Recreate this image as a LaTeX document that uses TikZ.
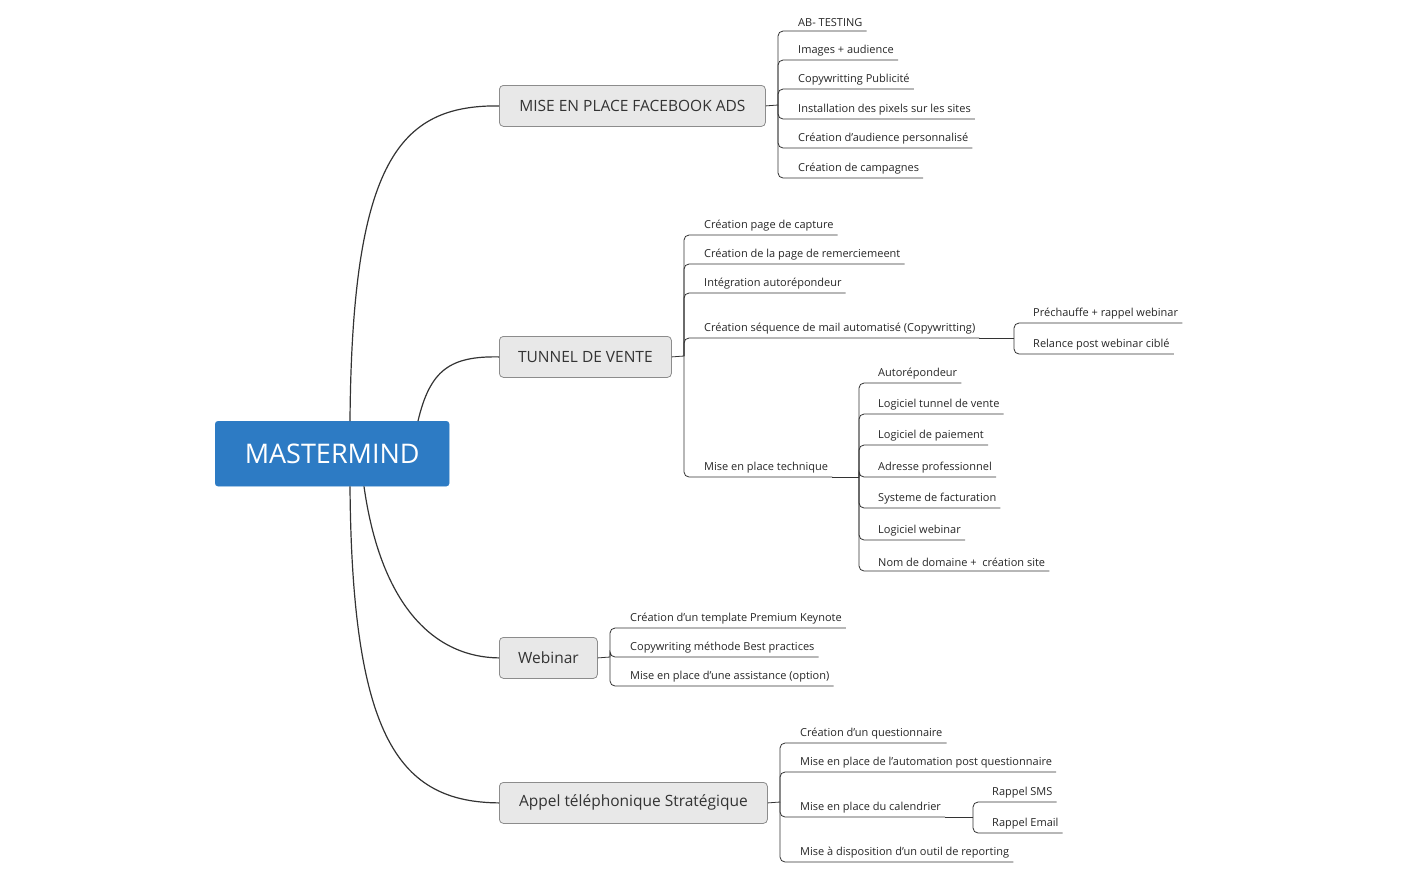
\documentclass[tikz,border=0pt]{standalone}
\usepackage{fontspec}
\setmainfont{Open Sans}
\usetikzlibrary{calc}
\definecolor{rootblue}{HTML}{2D7BC4}
\definecolor{topic}{HTML}{E8E8E8}
\definecolor{topicborder}{HTML}{8C8C8C}
\definecolor{linec}{HTML}{333333}
\begin{document}
\begin{tikzpicture}[x=1pt,y=-1pt,
  root/.style={fill=rootblue,draw=rootblue,rounded corners=3,text=white,font=\fontsize{27}{30}\selectfont,minimum width=234,minimum height=65,inner sep=0,anchor=north west},
  topicn/.style={fill=topic,draw=topicborder,rounded corners=4,text=black!80,font=\fontsize{15.5}{18}\selectfont,minimum height=41,inner xsep=0,anchor=north west,line width=0.8pt},
  leaf/.style={anchor=south west,font=\fontsize{11}{13}\selectfont,inner xsep=4,inner ysep=4,text=black!85},
  conn/.style={draw=linec,line width=0.8pt,rounded corners=5},
  curve/.style={draw=linec,line width=1.2pt}]
\useasboundingbox (0,0) rectangle (1410,873);
\node[root] (root) at (215,421) {MASTERMIND};
\node[topicn,minimum width=266] (fb) at (499,85) {MISE EN PLACE FACEBOOK ADS};
\node[topicn,minimum width=172] (tv) at (499,336) {TUNNEL DE VENTE};
\node[topicn,minimum width=98] (wb) at (499,637) {Webinar};
\node[topicn,minimum width=268] (ap) at (499,782) {Appel téléphonique Stratégique};
% root curves
\draw[curve] ($(root.north west)+(135,0)$) .. controls (352,160) and (400,105) .. (fb.west);
\draw[curve] ($(root.north west)+(203,0)$) .. controls (430,370) and (450,356) .. (tv.west);
\draw[curve] ($(root.south west)+(149,0)$) .. controls (380,600) and (430,657) .. (wb.west);
\draw[curve] ($(root.south west)+(135,0)$) .. controls (352,740) and (400,802) .. (ap.west);
% FB
\coordinate (jfb) at (778,105);
\draw[conn] (fb.east) -- (jfb);
\foreach \n/\y/\t in {fb1/31/AB- TESTING, fb2/60/Images + audience, fb3/89/Copywritting Publicité, fb4/119/Installation des pixels sur les sites, fb5/148/Création d'audience personnalisé, fb6/178/Création de campagnes}{
  \node[leaf] (\n) at (794,\y) {\t};
  \draw[conn] (jfb) |- (\n.south west) -- (\n.south east);
}
% Tunnel
\coordinate (jtv) at (684,356);
\draw[conn] (tv.east) -- (jtv);
\foreach \n/\y/\t in {tv1/235/Création page de capture, tv2/264/Création de la page de remerciemeent, tv3/293/Intégration autorépondeur, tv4/338/{Création séquence de mail automatisé (Copywritting)}, tv5/477/Mise en place technique}{
  \node[leaf] (\n) at (700,\y) {\t};
  \draw[conn] (jtv) |- (\n.south west) -- (\n.south east);
}
\coordinate (jseq) at (1014,338);
\draw[conn] (tv4.south east) -- (jseq);
\foreach \n/\y/\t in {sq1/323/Préchauffe + rappel webinar, sq2/354/Relance post webinar ciblé}{
  \node[leaf] (\n) at (1029,\y) {\t};
  \draw[conn] (jseq) |- (\n.south west) -- (\n.south east);
}
\coordinate (jtech) at (859,477);
\draw[conn] (tv5.south east) -- (jtech);
\foreach \n/\y/\t in {te1/383/Autorépondeur, te2/414/Logiciel tunnel de vente, te3/445/Logiciel de paiement, te4/477/Adresse professionnel, te5/508/Systeme de facturation, te6/540/Logiciel webinar, te7/571/Nom de domaine +\ \ création site}{
  \node[leaf] (\n) at (874,\y) {\t};
  \draw[conn] (jtech) |- (\n.south west) -- (\n.south east);
}
% Webinar
\coordinate (jwb) at (610,657);
\draw[conn] (wb.east) -- (jwb);
\foreach \n/\y/\t in {wb1/628/Création d'un template Premium Keynote, wb2/657/Copywriting méthode Best practices, wb3/686/Mise en place d'une assistance (option)}{
  \node[leaf] (\n) at (626,\y) {\t};
  \draw[conn] (jwb) |- (\n.south west) -- (\n.south east);
}
% Appel
\coordinate (jap) at (780,802);
\draw[conn] (ap.east) -- (jap);
\foreach \n/\y/\t in {ap1/743/Création d'un questionnaire, ap2/772/Mise en place de l'automation post questionnaire, ap3/817/Mise en place du calendrier, ap4/862/Mise à disposition d'un outil de reporting}{
  \node[leaf] (\n) at (796,\y) {\t};
  \draw[conn] (jap) |- (\n.south west) -- (\n.south east);
}
\coordinate (jcal) at (973,817);
\draw[conn] (ap3.south east) -- (jcal);
\foreach \n/\y/\t in {ca1/802/Rappel SMS, ca2/833/Rappel Email}{
  \node[leaf] (\n) at (988,\y) {\t};
  \draw[conn] (jcal) |- (\n.south west) -- (\n.south east);
}
\end{tikzpicture}
\end{document}
